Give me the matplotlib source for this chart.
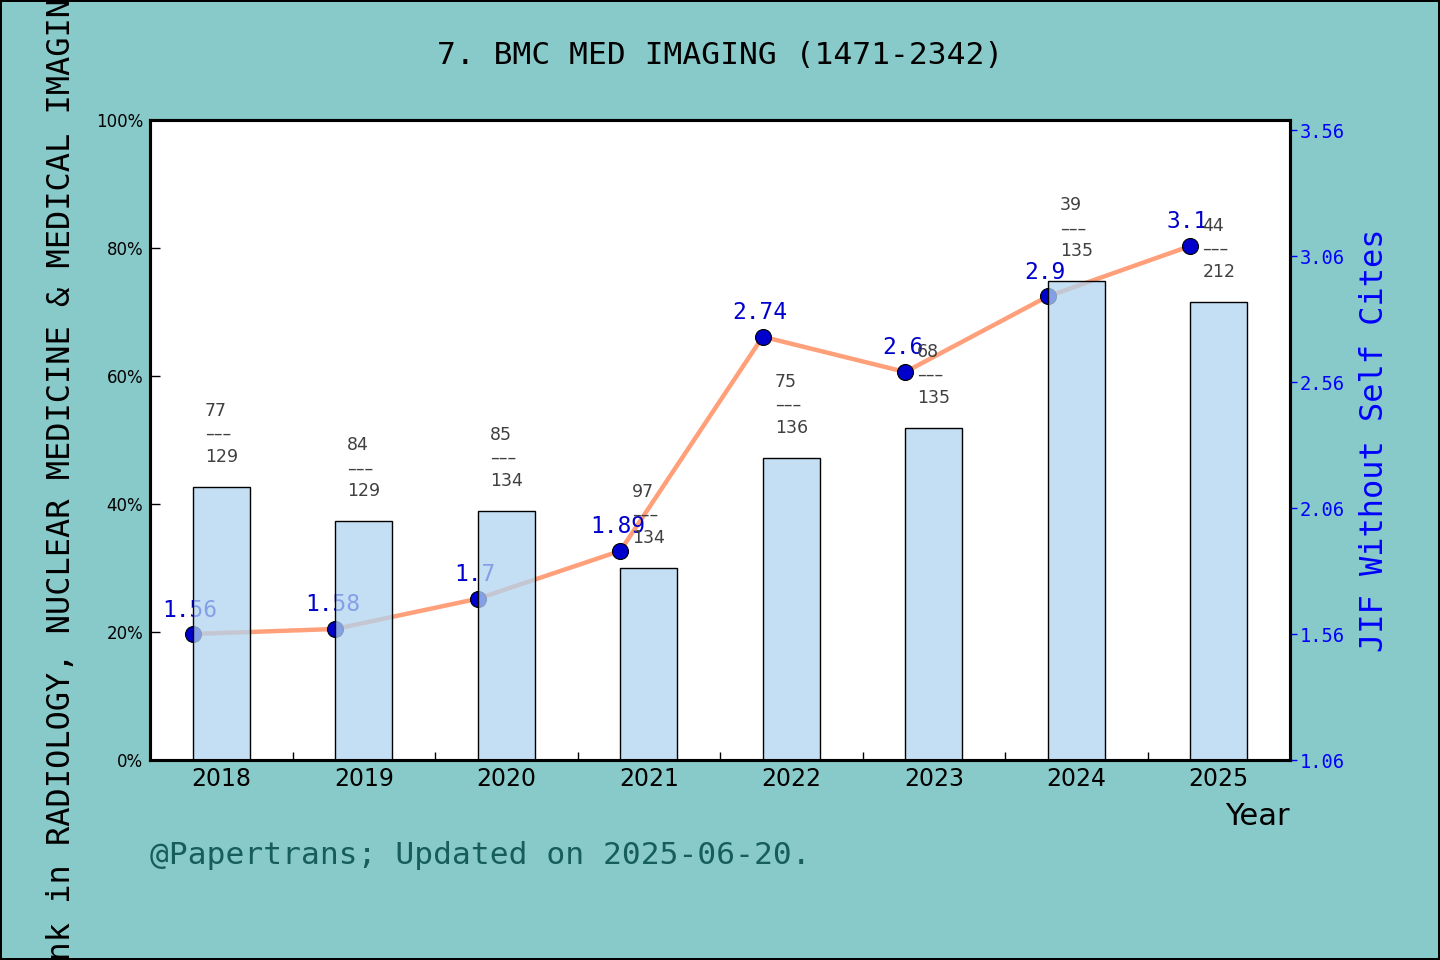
import matplotlib
matplotlib.use("Agg")
import matplotlib.pyplot as plt
from matplotlib.ticker import FixedLocator, FuncFormatter

years = ["2018", "2019", "2020", "2021", "2022", "2023", "2024", "2025"]
rank_pct = [42.7, 37.3, 38.9, 30.0, 47.2, 51.9, 74.8, 71.6]
ranks = [77, 84, 85, 97, 75, 68, 39, 44]
totals = [129, 129, 134, 134, 136, 135, 135, 212]
jif = [1.56, 1.58, 1.7, 1.89, 2.74, 2.6, 2.9, 3.1]
jif_labels = ["1.56", "1.58", "1.7", "1.89", "2.74", "2.6", "2.9", "3.1"]

BG = "#88CAC9"
MONO = "DejaVu Sans Mono"

fig = plt.figure(figsize=(14.4, 9.6), dpi=100, facecolor=BG)
fig.patch.set_edgecolor("black")
fig.patch.set_linewidth(1.5)

ax = fig.add_axes([150 / 1440, 1 - 760 / 960, 1140 / 1440, 640 / 960])
ax2 = ax.twinx()
# line axis below, bars (semi transparent) drawn on top
ax.set_zorder(2)
ax2.set_zorder(1)
ax.patch.set_visible(False)
ax2.patch.set_visible(True)
ax2.patch.set_facecolor("white")

xs = list(range(len(years)))

# JIF line on the right axis, at the left edge of each bar
line_x = [x - 0.2 for x in xs]
ax2.plot(line_x, jif, color="#FFA07A", lw=3.2, zorder=2,
         marker="o", markersize=11.5, markerfacecolor="#0000CD",
         markeredgecolor="black", markeredgewidth=0.8)
for x, v, lab in zip(line_x, jif, jif_labels):
    ax2.annotate(lab, (x, v), xytext=(-2, 9), textcoords="offset points",
                 ha="center", va="bottom", color="#0000CD", fontsize=16.5,
                 family=MONO, zorder=3)
ax2.set_ylim(min(jif) - 0.5, max(jif) + 0.5)
ax2.yaxis.set_major_locator(FixedLocator([1.06, 1.56, 2.06, 2.56, 3.06, 3.56]))
ax2.yaxis.set_major_formatter(FuncFormatter(lambda v, p: f"{v:.2f}"))
ax2.tick_params(axis="y", direction="out", length=5, width=1, colors="#0000FF",
                labelsize=13.5, pad=2)
for t in ax2.get_yticklabels():
    t.set_family(MONO)
ax2.set_ylabel("JIF Without Self Cites", color="#0000FF", fontsize=23,
               family=MONO, labelpad=10)

# rank percentage bars on the left axis
ax.bar(xs, rank_pct, width=0.4, facecolor=(0.694, 0.835, 0.945, 0.75),
       edgecolor="black", linewidth=1.0, zorder=2)
for x, h, r, t in zip(xs, rank_pct, ranks, totals):
    ax.text(x, h + 3.3, f"{r}\n–––\n{t}", ha="center", va="bottom",
            multialignment="left", fontsize=12.5, color="#404040",
            linespacing=1.35, zorder=4)

ax.set_xlim(-0.5, len(years) - 0.5)
ax.set_ylim(0, 100)
ax.set_xticks(xs)
ax.set_xticklabels(years, fontsize=17)
ax.set_xticks([x + 0.5 for x in xs[:-1]], minor=True)
ax.tick_params(axis="x", which="major", length=0, pad=5)
ax.tick_params(axis="x", which="minor", direction="in", length=6, width=1)
ax.set_yticks([0, 20, 40, 60, 80, 100])
ax.yaxis.set_major_formatter(FuncFormatter(lambda v, p: f"{v:.0f}%"))
ax.tick_params(axis="y", direction="in", length=7, width=1, labelsize=12, pad=5)

for a in (ax, ax2):
    for s in a.spines.values():
        s.set_linewidth(2.2)
        s.set_color("black")

ax.set_xlabel("Year", fontsize=22, loc="right", labelpad=8)

fig.text(62 / 1440, 1 - 489 / 960,
         "Rank in RADIOLOGY, NUCLEAR MEDICINE & MEDICAL IMAGING",
         rotation=90, ha="center", va="center", fontsize=23, family=MONO)
fig.text(0.5, 1 - 56 / 960, "7. BMC MED IMAGING (1471-2342)",
         ha="center", va="center", fontsize=22.5, family=MONO)
fig.text(150 / 1440, 1 - 855 / 960, "@Papertrans; Updated on 2025-06-20.",
         ha="left", va="center", fontsize=22.5, family=MONO, color="#165E5A")

fig.savefig("out.png", dpi=100, facecolor=BG, edgecolor="black")
